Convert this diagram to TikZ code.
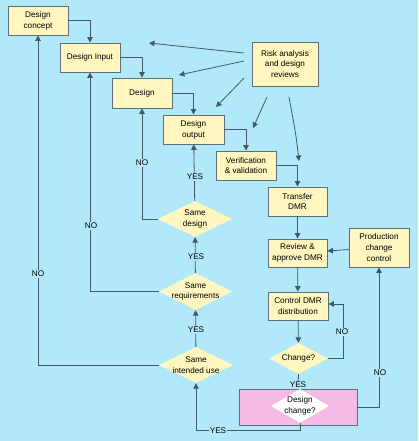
\documentclass[tikz,border=0pt]{standalone}
\usepackage{fontspec}
\setmainfont{Liberation Sans}
\usetikzlibrary{arrows.meta,shapes.geometric}
\definecolor{bgc}{RGB}{178,233,250}
\definecolor{boxc}{RGB}{255,246,192}
\definecolor{edgec}{RGB}{95,110,120}
\definecolor{linec}{RGB}{70,88,98}
\definecolor{pinkc}{RGB}{245,186,230}
\tikzset{
  every node/.style={font=\fontsize{8.2}{10.8}\selectfont, text=black},
  boxn/.style={draw=edgec, fill=boxc, line width=0.8pt, inner sep=0pt, align=center},
  dian/.style={draw=none, fill=boxc, diamond, inner sep=0pt},
  txt/.style={align=center, inner sep=0pt},
  lab/.style={fill=bgc, inner sep=1pt},
  conn/.style={draw=linec, line width=0.8pt, -{Triangle[length=5.5pt,width=5.5pt]}},
  plain/.style={draw=linec, line width=0.8pt},
}
\begin{document}
\begin{tikzpicture}[x=1pt,y=-1pt]
\useasboundingbox (0,0) rectangle (418,441);
\fill[bgc] (0,0) rectangle (418,441);

% boxes
\node[boxn, minimum width=60, minimum height=29] (concept) at (38,20.5) {Design\\concept};
\node[boxn, minimum width=60, minimum height=29] (input) at (90,57.5) {Design Input};
\node[boxn, minimum width=60, minimum height=30] (design) at (142,93) {Design};
\node[boxn, minimum width=61, minimum height=29] (output) at (193.5,129.5) {Design\\output};
\node[boxn, minimum width=66, minimum height=44] (risk) at (285,64) {Risk analysis\\and design\\reviews};
\node[boxn, minimum width=60, minimum height=29] (verif) at (246,165.5) {Verification\\\& validation};
\node[boxn, minimum width=59, minimum height=29] (transfer) at (297.5,201.5) {Transfer\\DMR};
\node[boxn, minimum width=59, minimum height=28] (review) at (297.5,253) {Review \&\\approve DMR};
\node[boxn, minimum width=60, minimum height=39] (prod) at (379,247.5) {Production\\change\\control};
\node[boxn, minimum width=60, minimum height=28] (control) at (298,306) {Control DMR\\distribution};
\node[boxn, draw=edgec, fill=pinkc, minimum width=118, minimum height=36] (pink) at (298,407) {};

% diamonds
\node[dian, minimum width=59, minimum height=31] (change) at (298.5,358.5) {};
\node[txt] at (change) {Change?};
\node[dian, fill=white, minimum width=58, minimum height=34] (dchange) at (300,406) {};
\node[txt] at (dchange) {Design\\change?};
\node[dian, minimum width=74, minimum height=36] (sdesign) at (195,219) {};
\node[txt] at (sdesign) {Same\\design};
\node[dian, minimum width=73, minimum height=37] (sreq) at (195.5,291.5) {};
\node[txt] at (sreq) {Same\\requirements};
\node[dian, minimum width=74, minimum height=36] (suse) at (196,365) {};
\node[txt] at (suse) {Same\\intended use};

% main chain
\draw[conn] (concept.east) -| (input.north);
\draw[conn] (input.east) -| (design.north);
\draw[conn] (design.east) -| (output.north);
\draw[conn] (output.east) -| (verif.north);
\draw[conn] (verif.east) -| (transfer.north);
\draw[conn] (transfer) -- (review);
\draw[conn] (review) -- (control);
\draw[conn] (control) -- (change);
\draw[conn] (prod) -- (review);

% Change? loop
\coordinate (cnr) at (343,304);
\draw[conn] (change.east) -| (cnr) -- (control.east |- cnr);
\node[lab] at (342,332) {NO};
\draw[plain] (change.south) -- (pink.north);
\node[lab] at (298,385) {YES};

% pink to production
\draw[conn] (pink.east) -| (prod.south);
\node[lab] at (380,373) {NO};

% pink to same intended use
\coordinate (py) at (300,430.5);
\draw[conn] (dchange.south) -- (py) -| (suse.south);
\node[lab] at (218,430.5) {YES};

% YES chain
\draw[conn] (suse) -- (sreq);
\node[lab] at (196,330) {YES};
\draw[conn] (sreq) -- (sdesign);
\node[lab] at (196,257) {YES};
\draw[conn] (sdesign) -- (output);
\node[lab] at (195,177) {YES};

% NO loops
\draw[conn] (sdesign.west) -| (design.south);
\node[lab] at (142,163) {NO};
\draw[conn] (sreq.west) -| (input.south);
\node[lab] at (91,226) {NO};
\draw[conn] (suse.west) -| (concept.south);
\node[lab] at (38,274) {NO};

% risk arrows
\coordinate (r1) at (244,53);
\coordinate (t1) at (149,43);
\coordinate (r2) at (244,61);
\coordinate (t2) at (179,75);
\coordinate (r3) at (244,78);
\coordinate (t3) at (216,107);
\coordinate (r4) at (267,97);
\coordinate (t4) at (253,128);
\coordinate (r5) at (289,97);
\coordinate (t5) at (299,161);
\draw[conn] (r1) -- (t1);
\draw[conn] (r2) -- (t2);
\draw[conn] (r3) -- (t3);
\draw[conn] (r4) -- (t4);
\draw[conn] (r5) .. controls (296,135) .. (t5);
\end{tikzpicture}
\end{document}
